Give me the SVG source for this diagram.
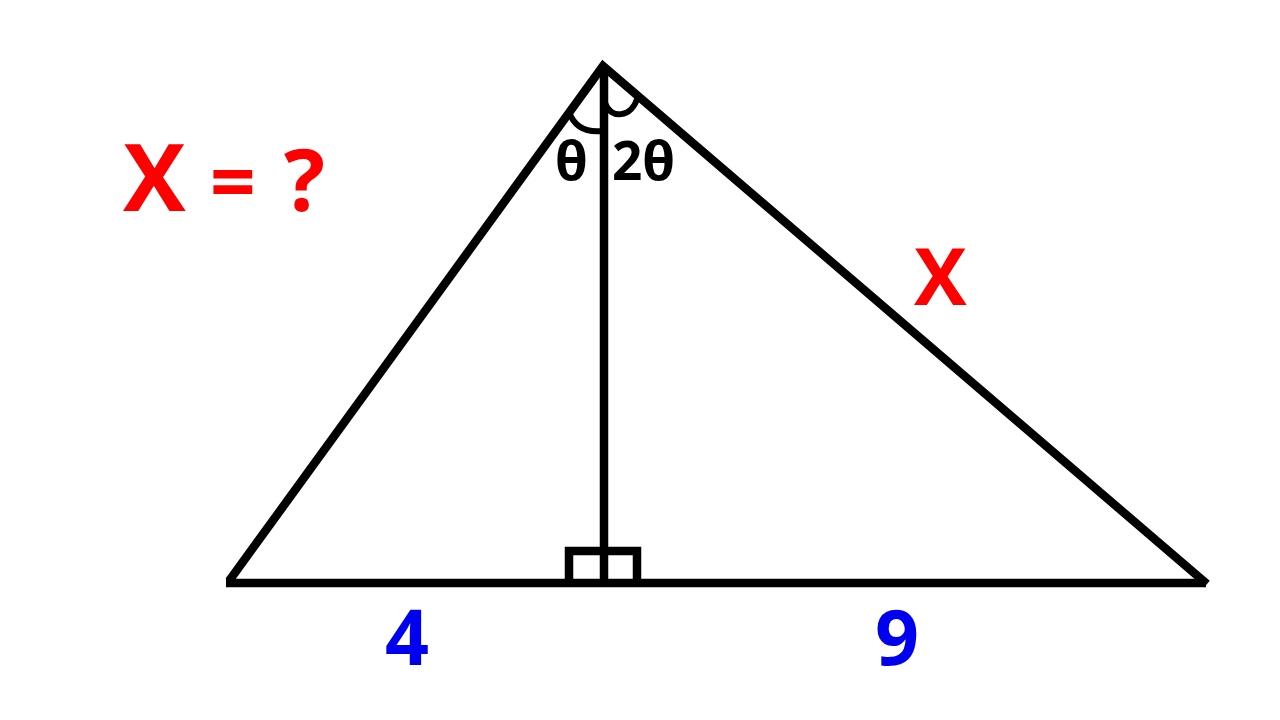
<svg xmlns="http://www.w3.org/2000/svg" width="1280" height="720" viewBox="0 0 1280 720">
<style>
.ln{fill:none;stroke:#000;stroke-width:8.5;stroke-linejoin:miter;stroke-linecap:butt}
.arc{fill:none;stroke:#000;stroke-width:6}
.t{font-family:"Open Sans","Noto Sans","DejaVu Sans",sans-serif;font-weight:bold}
.red{fill:#ff0000}
.blue{fill:#0000f0}
.blk{fill:#000}
</style>
<rect width="1280" height="720" fill="#fff"/>
<g id="triangle">
<line class="ln" x1="226" y1="583" x2="1206" y2="583"/>
<path class="ln" d="M229 581 L603 66 L1207 584" stroke-miterlimit="10"/>
</g>
<g id="connectors">
<line class="ln" x1="604" y1="68" x2="604" y2="583"/>
<path class="ln" d="M569 583 V551 H637 V583"/>
<path class="arc" d="M569 112 Q577 134 603 131"/>
<path class="arc" d="M605 103 C610 119 632 119 638 96"/>
</g>
<g id="labels">
<text class="t red" x="123" y="211" font-size="94">X</text>
<text class="t red" x="210" y="211" font-size="80">=</text>
<text class="t red" x="284" y="211" font-size="86">?</text>
<text class="t blk" x="555" y="180" font-size="53">θ</text>
<text class="t blk" x="612" y="180" font-size="53">2θ</text>
<text class="t red" x="914" y="305" font-size="79">X</text>
<text class="t blue" x="385" y="665" font-size="77">4</text>
<text class="t blue" x="875" y="665" font-size="77">9</text>
</g>
</svg>
